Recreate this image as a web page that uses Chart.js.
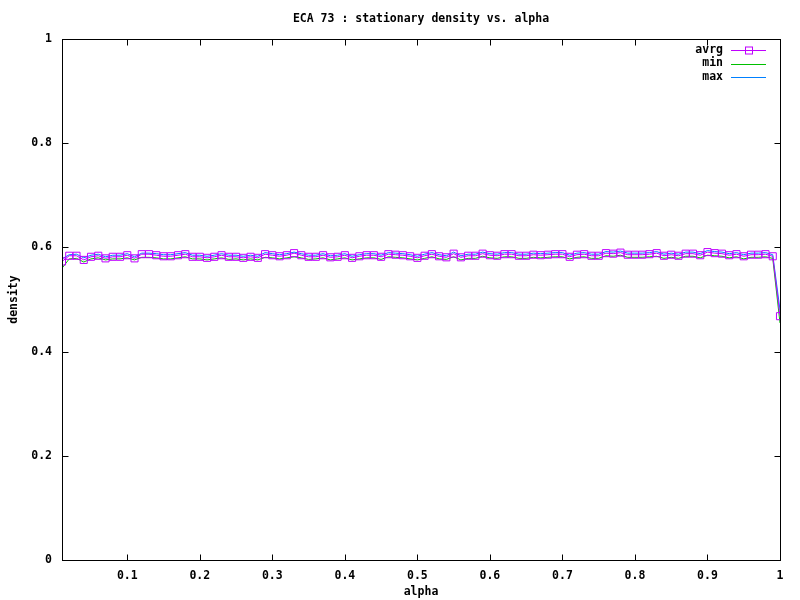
<!DOCTYPE html>
<html>
<head>
<meta charset="utf-8">
<script src="https://cdn.jsdelivr.net/npm/chart.js@4/dist/chart.umd.min.js"></script>
<style>
  html, body { margin: 0; padding: 0; background: #fff; }
  #wrap { width: 800px; height: 600px; }
</style>
</head>
<body>
<div id="wrap"><canvas id="chart" width="800" height="600"></canvas></div>
<script>
// alpha values along the x axis
const alpha = [
  0.01, 0.02, 0.03, 0.04, 0.05, 0.06, 0.07, 0.08, 0.09, 0.10,
  0.11, 0.12, 0.13, 0.14, 0.15, 0.16, 0.17, 0.18, 0.19, 0.20,
  0.21, 0.22, 0.23, 0.24, 0.25, 0.26, 0.27, 0.28, 0.29, 0.30,
  0.31, 0.32, 0.33, 0.34, 0.35, 0.36, 0.37, 0.38, 0.39, 0.40,
  0.41, 0.42, 0.43, 0.44, 0.45, 0.46, 0.47, 0.48, 0.49, 0.50,
  0.51, 0.52, 0.53, 0.54, 0.55, 0.56, 0.57, 0.58, 0.59, 0.60,
  0.61, 0.62, 0.63, 0.64, 0.65, 0.66, 0.67, 0.68, 0.69, 0.70,
  0.71, 0.72, 0.73, 0.74, 0.75, 0.76, 0.77, 0.78, 0.79, 0.80,
  0.81, 0.82, 0.83, 0.84, 0.85, 0.86, 0.87, 0.88, 0.89, 0.90,
  0.91, 0.92, 0.93, 0.94, 0.95, 0.96, 0.97, 0.98, 0.99, 1.00
];

const avrg = [
  0.573, 0.584, 0.584, 0.576, 0.582, 0.584, 0.579, 0.582, 0.582, 0.585,
  0.579, 0.587, 0.587, 0.585, 0.583, 0.583, 0.585, 0.587, 0.582, 0.582,
  0.580, 0.582, 0.585, 0.582, 0.582, 0.580, 0.582, 0.580, 0.587, 0.585,
  0.583, 0.585, 0.589, 0.585, 0.582, 0.582, 0.585, 0.581, 0.582, 0.585,
  0.580, 0.583, 0.585, 0.585, 0.582, 0.587, 0.586, 0.585, 0.583, 0.580,
  0.584, 0.587, 0.583, 0.581, 0.588, 0.581, 0.584, 0.584, 0.588, 0.585,
  0.584, 0.587, 0.587, 0.584, 0.584, 0.586, 0.585, 0.586, 0.587, 0.587,
  0.582, 0.586, 0.587, 0.584, 0.584, 0.589, 0.588, 0.590, 0.586, 0.586,
  0.586, 0.587, 0.589, 0.584, 0.586, 0.584, 0.588, 0.588, 0.585, 0.591,
  0.589, 0.588, 0.585, 0.587, 0.583, 0.586, 0.586, 0.587, 0.583, 0.468
];

const minVals = [
  0.560, 0.578, 0.579, 0.572, 0.578, 0.580, 0.576, 0.578, 0.578, 0.580,
  0.576, 0.581, 0.581, 0.580, 0.578, 0.578, 0.580, 0.582, 0.578, 0.578,
  0.576, 0.578, 0.580, 0.577, 0.578, 0.576, 0.578, 0.576, 0.581, 0.580,
  0.578, 0.580, 0.582, 0.580, 0.577, 0.578, 0.580, 0.576, 0.578, 0.580,
  0.576, 0.578, 0.580, 0.580, 0.577, 0.582, 0.581, 0.580, 0.578, 0.576,
  0.579, 0.582, 0.578, 0.577, 0.582, 0.576, 0.579, 0.579, 0.583, 0.580,
  0.579, 0.582, 0.582, 0.579, 0.579, 0.581, 0.580, 0.581, 0.582, 0.582,
  0.578, 0.581, 0.582, 0.579, 0.579, 0.584, 0.583, 0.585, 0.581, 0.581,
  0.581, 0.582, 0.583, 0.579, 0.581, 0.579, 0.583, 0.583, 0.580, 0.585,
  0.584, 0.583, 0.580, 0.582, 0.578, 0.581, 0.581, 0.582, 0.579, 0.455
];

const maxVals = [
  0.578, 0.586, 0.587, 0.580, 0.585, 0.587, 0.582, 0.585, 0.585, 0.588,
  0.582, 0.589, 0.589, 0.588, 0.586, 0.586, 0.588, 0.590, 0.585, 0.585,
  0.583, 0.585, 0.588, 0.585, 0.585, 0.583, 0.585, 0.583, 0.590, 0.588,
  0.586, 0.588, 0.591, 0.588, 0.585, 0.585, 0.588, 0.584, 0.585, 0.588,
  0.583, 0.586, 0.588, 0.588, 0.585, 0.590, 0.589, 0.588, 0.586, 0.583,
  0.587, 0.590, 0.586, 0.584, 0.591, 0.584, 0.587, 0.587, 0.591, 0.588,
  0.587, 0.590, 0.590, 0.587, 0.587, 0.589, 0.588, 0.589, 0.590, 0.590,
  0.585, 0.589, 0.590, 0.587, 0.587, 0.592, 0.591, 0.593, 0.589, 0.589,
  0.589, 0.590, 0.592, 0.587, 0.589, 0.587, 0.591, 0.591, 0.588, 0.594,
  0.592, 0.591, 0.588, 0.590, 0.586, 0.589, 0.589, 0.590, 0.586, 0.480
];

const xTicks = [0.1, 0.2, 0.3, 0.4, 0.5, 0.6, 0.7, 0.8, 0.9, 1];
const xTickLabels = ["0.1", "0.2", "0.3", "0.4", "0.5", "0.6", "0.7", "0.8", "0.9", "1"];
const yTicks = [0, 0.2, 0.4, 0.6, 0.8, 1];
const yTickLabels = ["0", "0.2", "0.4", "0.6", "0.8", "1"];

const FONT = "'DejaVu Sans Mono', 'Liberation Mono', monospace";
const font = { family: FONT, size: 11.5, weight: "bold", lineHeight: 1.15 };

const pts = (ys) => alpha.map((a, i) => ({ x: a, y: ys[i] }));

// gnuplot-like frame, mirrored inward ticks and legend
const gnuFrame = {
  id: "gnuFrame",
  afterDraw(chart) {
    const { ctx, chartArea: a, scales } = chart;
    const L = Math.round(a.left) + 0.5, R = Math.round(a.right) + 0.5;
    const T = Math.round(a.top) + 0.5, B = Math.round(a.bottom) + 0.5;
    const tl = 6;
    ctx.save();
    ctx.strokeStyle = "#000";
    ctx.lineWidth = 1;
    ctx.strokeRect(L, T, R - L, B - T);
    ctx.beginPath();
    xTicks.forEach((v) => {
      const x = Math.round(scales.x.getPixelForValue(v)) + 0.5;
      ctx.moveTo(x, B); ctx.lineTo(x, B - tl);
      ctx.moveTo(x, T); ctx.lineTo(x, T + tl);
    });
    yTicks.forEach((v) => {
      const y = Math.round(scales.y.getPixelForValue(v)) + 0.5;
      ctx.moveTo(L, y); ctx.lineTo(L + tl, y);
      ctx.moveTo(R, y); ctx.lineTo(R - tl, y);
    });
    ctx.stroke();

    // legend: label right-aligned, then sample line
    ctx.font = "bold 11.5px " + FONT;
    ctx.textAlign = "right";
    ctx.textBaseline = "middle";
    chart.data.datasets.forEach((ds, i) => {
      const y = 50 + i * 13.5;
      ctx.fillStyle = "#000";
      ctx.fillText(ds.label, 723, y);
      const yy = Math.round(y) + 0.5;
      ctx.strokeStyle = ds.borderColor;
      ctx.beginPath();
      ctx.moveTo(731, yy); ctx.lineTo(766, yy);
      ctx.stroke();
      if (ds.pointStyle === "rect") {
        ctx.strokeRect(745.5, yy - 3.5, 7, 7);
      }
    });
    ctx.restore();
  }
};

new Chart(document.getElementById("chart"), {
  type: "line",
  data: {
    datasets: [
      {
        label: "avrg",
        data: pts(avrg),
        borderColor: "#c000ff",
        borderWidth: 1,
        pointStyle: "rect",
        pointRadius: 5,
        pointBorderWidth: 1,
        pointBorderColor: "#c000ff",
        pointBackgroundColor: "rgba(0,0,0,0)",
        tension: 0
      },
      {
        label: "min",
        data: pts(minVals),
        borderColor: "#00c000",
        borderWidth: 1,
        pointRadius: 0,
        tension: 0
      },
      {
        label: "max",
        data: pts(maxVals),
        borderColor: "#0080ff",
        borderWidth: 1,
        pointRadius: 0,
        tension: 0
      }
    ]
  },
  options: {
    responsive: false,
    animation: false,
    layout: { padding: { left: 0, right: 20, top: 0, bottom: 0 } },
    plugins: {
      legend: { display: false },
      tooltip: { enabled: false },
      title: {
        display: true,
        text: "ECA 73 : stationary density vs. alpha",
        color: "#000",
        font: font,
        fullSize: false,
        padding: { top: 12, bottom: 13.8 }
      }
    },
    scales: {
      x: {
        type: "linear",
        min: 0.01,
        max: 1,
        afterBuildTicks: (s) => { s.ticks = xTicks.map((v) => ({ value: v })); },
        afterFit: (s) => { s.height = 40; },
        grid: { display: false, drawTicks: false },
        border: { display: false },
        ticks: {
          color: "#000",
          font: font,
          padding: 9,
          maxRotation: 0,
          autoSkip: false,
          callback: (v) => xTickLabels[xTicks.indexOf(v)]
        },
        title: {
          display: true,
          text: "alpha",
          color: "#000",
          font: font,
          padding: { top: 0, bottom: 1 }
        }
      },
      y: {
        min: 0,
        max: 1,
        afterBuildTicks: (s) => { s.ticks = yTicks.map((v) => ({ value: v })); },
        afterFit: (s) => { s.width = 62; },
        grid: { display: false, drawTicks: false },
        border: { display: false },
        ticks: {
          color: "#000",
          font: font,
          padding: 10,
          autoSkip: false,
          callback: (v) => yTickLabels[yTicks.indexOf(v)]
        },
        title: {
          display: true,
          text: "density",
          color: "#000",
          font: font,
          padding: { top: 7, bottom: 0 }
        }
      }
    }
  },
  plugins: [gnuFrame]
});
</script>
</body>
</html>
